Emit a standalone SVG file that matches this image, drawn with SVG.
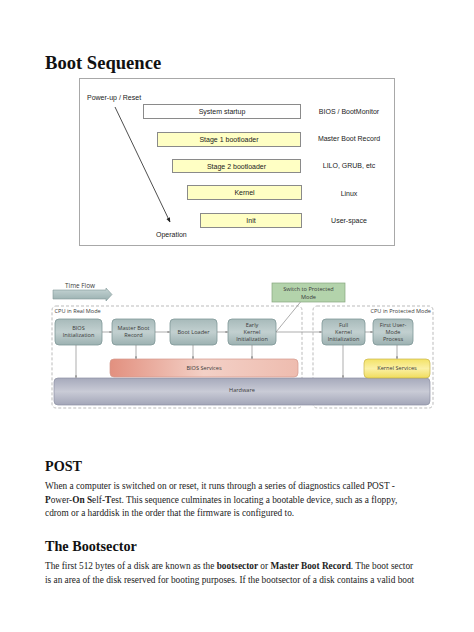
<svg xmlns="http://www.w3.org/2000/svg" width="474" height="632" viewBox="0 0 474 632">
<defs>
<style>
.h1{font-family:"Liberation Serif","Times New Roman",serif;font-weight:bold;font-size:18.6px;fill:#111}
.h2{font-family:"Liberation Serif","Times New Roman",serif;font-weight:bold;font-size:14.2px;fill:#111}
.body{font-family:"Liberation Serif","Times New Roman",serif;font-size:9.3px;fill:#222}
.b{font-weight:bold}
.t7{font-family:"Liberation Sans",Arial,sans-serif;font-size:7px;fill:#222}
.tc{text-anchor:middle}
.box{stroke:#8a8a8a;stroke-width:1}
.yel{fill:#ffffc4}
.t6{font-family:"Open Sans","Liberation Sans",sans-serif;font-size:5.6px;fill:#3a3a3a}
.proc{fill:url(#gProc);stroke:#7f9797;stroke-width:0.8}
.dash{fill:none;stroke:#aaaaaa;stroke-width:0.8;stroke-dasharray:3 2}
.con{stroke:#8a8a8a;stroke-width:0.7;fill:none}
</style>
<linearGradient id="gProc" x1="0" y1="0" x2="0" y2="1"><stop offset="0" stop-color="#a7baba"/><stop offset="0.5" stop-color="#c2d0d0"/><stop offset="1" stop-color="#9cb1b1"/></linearGradient>
<linearGradient id="gBios" x1="0" y1="0" x2="1" y2="0"><stop offset="0" stop-color="#e2907f"/><stop offset="0.5" stop-color="#f3d0c6"/><stop offset="1" stop-color="#eebcaf"/></linearGradient>
<linearGradient id="gHw" x1="0" y1="0" x2="0" y2="1"><stop offset="0" stop-color="#a6a9bb"/><stop offset="0.5" stop-color="#c9cbd6"/><stop offset="1" stop-color="#a3a6b8"/></linearGradient>
<linearGradient id="gKs" x1="0" y1="0" x2="0" y2="1"><stop offset="0" stop-color="#f3e266"/><stop offset="0.5" stop-color="#fbf1a6"/><stop offset="1" stop-color="#f0dc5c"/></linearGradient>
<linearGradient id="gTf" x1="0" y1="0" x2="0" y2="1"><stop offset="0" stop-color="#c6d5d5"/><stop offset="1" stop-color="#98afaf"/></linearGradient>
<marker id="ah" viewBox="0 0 10 10" refX="9" refY="5" markerWidth="6" markerHeight="6" orient="auto"><path d="M0,1 L10,5 L0,9 z" fill="#222"/></marker>
<marker id="sa" viewBox="0 0 10 10" refX="9" refY="5" markerWidth="4" markerHeight="4" orient="auto"><path d="M0,1 L10,5 L0,9 z" fill="#888"/></marker>
</defs>
<rect width="474" height="632" fill="#fff"/>

<text class="h1" x="45" y="69">Boot Sequence</text>

<g id="top-diagram">
<rect x="79.5" y="78.5" width="315" height="167" fill="#fff" stroke="#a8a8a8"/>
<text class="t7" x="87" y="100">Power-up / Reset</text>
<text class="t7" x="156" y="236.5">Operation</text>
<g id="n-system"><rect class="box" x="143.5" y="104.5" width="157" height="14" fill="#fff"/><text class="t7 tc" x="222" y="114">System startup</text></g>
<g id="n-stage1"><rect class="box yel" x="157.5" y="132.5" width="143" height="14"/><text class="t7 tc" x="229" y="142">Stage 1 bootloader</text></g>
<g id="n-stage2"><rect class="box yel" x="172.5" y="159.5" width="128" height="13"/><text class="t7 tc" x="236.5" y="168.5">Stage 2 bootloader</text></g>
<g id="n-kernel"><rect class="box yel" x="187.5" y="185.5" width="114" height="14"/><text class="t7 tc" x="244.5" y="195">Kernel</text></g>
<g id="n-init"><rect class="box yel" x="200.5" y="213.5" width="101" height="14"/><text class="t7 tc" x="251" y="223">Init</text></g>
<text class="t7 tc" x="349" y="113.5">BIOS / BootMonitor</text>
<text class="t7 tc" x="349" y="140.5">Master Boot Record</text>
<text class="t7 tc" x="349" y="168">LILO, GRUB, etc</text>
<text class="t7 tc" x="349" y="195.5">Linux</text>
<text class="t7 tc" x="349" y="222.5">User-space</text>
<line x1="115" y1="107" x2="170" y2="222" stroke="#222" stroke-width="0.8" marker-end="url(#ah)"/>
</g>

<g id="bottom-diagram">
<text class="t6" x="65" y="288" style="font-size:6.4px">Time Flow</text>
<polygon points="53,290 106,290 106,288 112,294.5 106,301 106,299 53,299" fill="url(#gTf)" stroke="#7f9797" stroke-width="0.6"/>

<rect class="dash" x="52" y="306" width="250" height="102" rx="4"/>
<text class="t6" x="54.5" y="313">CPU in Real Mode</text>
<rect class="dash" x="313" y="306" width="120" height="102" rx="4"/>
<text class="t6" x="431" y="313" text-anchor="end">CPU in Protected Mode</text>

<g id="n-hardware"><rect x="54" y="378" width="376" height="27" rx="4" fill="url(#gHw)" stroke="#8d90a3" stroke-width="0.7"/><text class="t6 tc" x="242" y="392">Hardware</text></g>
<g id="n-biossvc"><rect x="110" y="359" width="188" height="18" rx="4" fill="url(#gBios)" stroke="#d49a8c" stroke-width="0.7"/><text class="t6 tc" x="204" y="370">BIOS Services</text></g>
<g id="n-kernelsvc"><rect x="364" y="359" width="66" height="19" rx="4" fill="url(#gKs)" stroke="#c8b447" stroke-width="0.7"/><text class="t6 tc" x="397" y="370">Kernel Services</text></g>

<g id="n-bios"><rect class="proc" x="55" y="319" width="47" height="26" rx="4"/><text class="t6 tc" x="78.5" y="330">BIOS</text><text class="t6 tc" x="78.5" y="337">Initialization</text></g>
<g id="n-mbr"><rect class="proc" x="112" y="319" width="43" height="26" rx="4"/><text class="t6 tc" x="133.5" y="330">Master Boot</text><text class="t6 tc" x="133.5" y="337">Record</text></g>
<g id="n-bootloader"><rect class="proc" x="170" y="319" width="47" height="26" rx="4"/><text class="t6 tc" x="193.5" y="334">Boot Loader</text></g>
<g id="n-early"><rect class="proc" x="228" y="319" width="48" height="26" rx="4"/><text class="t6 tc" x="252" y="327">Early</text><text class="t6 tc" x="252" y="334">Kernel</text><text class="t6 tc" x="252" y="341">Initialization</text></g>
<g id="n-full"><rect class="proc" x="322" y="319" width="43" height="26" rx="4"/><text class="t6 tc" x="343.5" y="327">Full</text><text class="t6 tc" x="343.5" y="334">Kernel</text><text class="t6 tc" x="343.5" y="341">Initialization</text></g>
<g id="n-firstuser"><rect class="proc" x="373" y="319" width="40" height="26" rx="4"/><text class="t6 tc" x="393" y="327">First User-</text><text class="t6 tc" x="393" y="334">Mode</text><text class="t6 tc" x="393" y="341">Process</text></g>
<g id="n-switch"><rect x="272" y="283" width="73" height="19" fill="#b3d3ab" stroke="#86a67e" stroke-width="0.7"/><text class="t6 tc" x="308.5" y="291">Switch to Protected</text><text class="t6 tc" x="308.5" y="298.5">Mode</text></g>

<g id="connectors">
<line class="con" x1="102" y1="332" x2="112" y2="332" marker-end="url(#sa)"/>
<line class="con" x1="155" y1="332" x2="170" y2="332" marker-end="url(#sa)"/>
<line class="con" x1="217" y1="332" x2="228" y2="332" marker-end="url(#sa)"/>
<line class="con" x1="276" y1="332" x2="322" y2="332" marker-end="url(#sa)"/>
<line class="con" x1="365" y1="332" x2="373" y2="332" marker-end="url(#sa)"/>
<line class="con" x1="76" y1="345" x2="76" y2="378" marker-end="url(#sa)"/>
<line class="con" x1="136" y1="345" x2="136" y2="359" marker-end="url(#sa)"/>
<line class="con" x1="193" y1="345" x2="193" y2="359" marker-end="url(#sa)"/>
<line class="con" x1="252" y1="345" x2="252" y2="359" marker-end="url(#sa)"/>
<line class="con" x1="343" y1="345" x2="343" y2="378" marker-end="url(#sa)"/>
<line class="con" x1="397" y1="345" x2="397" y2="359" marker-end="url(#sa)"/>
<line class="con" x1="300.5" y1="302" x2="276" y2="332"/>
</g>
</g>

<text class="h2" x="45" y="471">POST</text>
<text class="body" x="45" y="489">When a computer is switched on or reset, it runs through a series of diagnostics called POST -</text>
<text class="body" x="45" y="502.5"><tspan class="b">P</tspan>ower-<tspan class="b">On</tspan> <tspan class="b">S</tspan>elf-<tspan class="b">T</tspan>est. This sequence culminates in locating a bootable device, such as a floppy,</text>
<text class="body" x="45" y="516">cdrom or a harddisk in the order that the firmware is configured to.</text>

<text class="h2" x="45" y="551">The Bootsector</text>
<text class="body" x="45" y="569">The first 512 bytes of a disk are known as the <tspan class="b">bootsector</tspan> or <tspan class="b">Master Boot Record</tspan>. The boot sector</text>
<text class="body" x="45" y="582.5">is an area of the disk reserved for booting purposes. If the bootsector of a disk contains a valid boot</text>
</svg>
